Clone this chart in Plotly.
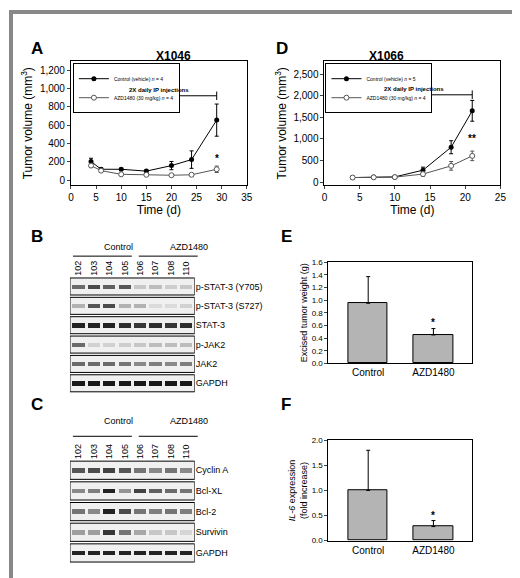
import plotly.graph_objects as go

W, H = 520, 578

# ---- panel A (X1046) ----
a_days = [4, 6, 10, 15, 20, 24, 29]
a_ctrl = [205, 120, 120, 100, 160, 225, 655]
a_ctrl_err = [35, 15, 12, 12, 45, 95, 175]
a_azd = [160, 105, 65, 60, 55, 60, 120]
a_azd_err = [20, 10, 8, 8, 8, 15, 35]

# ---- panel D (X1066) ----
d_days = [4, 7, 10, 14, 18, 21]
d_ctrl = [110, 120, 125, 280, 810, 1650]
d_ctrl_err = [15, 15, 15, 70, 150, 240]
d_azd = [110, 115, 120, 190, 380, 610]
d_azd_err = [15, 15, 15, 50, 100, 110]

# ---- panels E / F ----
groups = ["Control", "AZD1480"]
e_weight = [0.95, 0.45]
e_err = [0.42, 0.10]
f_il6 = [1.0, 0.28]
f_err = [0.80, 0.12]

# ---- blots (band darkness 0..1) ----
lanes = ["102", "103", "104", "105", "106", "107", "108", "110"]
b_rows = ["p-STAT-3 (Y705)", "p-STAT-3 (S727)", "STAT-3", "p-JAK2", "JAK2", "GAPDH"]
b_bands = [
    [0.6, 0.75, 0.65, 0.7, 0.15, 0.2, 0.12, 0.15],
    [0.25, 0.7, 0.75, 0.25, 0.25, 0.05, 0.05, 0.1],
    [0.95, 0.95, 0.95, 0.9, 0.85, 0.9, 0.85, 0.9],
    [0.6, 0.1, 0.1, 0.12, 0.15, 0.2, 0.2, 0.2],
    [0.6, 0.6, 0.6, 0.55, 0.45, 0.5, 0.45, 0.5],
    [1, 1, 1, 1, 1, 1, 1, 1],
]
c_rows = ["Cyclin A", "Bcl-XL", "Bcl-2", "Survivin", "GAPDH"]
c_bands = [
    [0.7, 0.75, 0.8, 0.7, 0.55, 0.45, 0.55, 0.45],
    [0.45, 0.5, 0.95, 0.4, 0.8, 0.65, 0.6, 0.55],
    [0.55, 0.45, 0.95, 0.75, 0.55, 0.5, 0.55, 0.5],
    [0.35, 0.35, 0.85, 0.55, 0.3, 0.15, 0.15, 0.08],
    [0.95, 0.95, 0.95, 0.95, 0.95, 0.95, 0.95, 0.95],
]


def dx(a, b):
    return [a / W, b / W]


def dy(top, bottom):
    return [1 - bottom / H, 1 - top / H]


FONT = "Liberation Sans, Arial, sans-serif"
fig = go.Figure()

leg_names = {
    "legend": ["Control (vehicle) <i>n</i> = 4", "AZD1480 (30 mg/kg) <i>n</i> = 4"],
    "legend2": ["Control (vehicle) <i>n</i> = 5", "AZD1480 (30 mg/kg) <i>n</i> = 4"],
}

# line charts
def line_pair(x, c, ce, z, ze, xa, ya, leg):
    fig.add_trace(go.Scatter(x=x, y=c, error_y=dict(array=ce, color="black", thickness=1, width=2),
                             mode="lines+markers", line=dict(color="black", width=1),
                             marker=dict(color="black", size=5), xaxis=xa, yaxis=ya, legend=leg,
                             name=leg_names[leg][0]))
    fig.add_trace(go.Scatter(x=x, y=z, error_y=dict(array=ze, color="#555", thickness=1, width=2),
                             mode="lines+markers", line=dict(color="#555", width=1),
                             marker=dict(color="white", size=5, line=dict(color="#555", width=1)),
                             xaxis=xa, yaxis=ya, legend=leg, name=leg_names[leg][1]))

line_pair(a_days, a_ctrl, a_ctrl_err, a_azd, a_azd_err, "x", "y", "legend")
line_pair(d_days, d_ctrl, d_ctrl_err, d_azd, d_azd_err, "x2", "y2", "legend2")

# blots
def blot(rows, bands, xa, ya):
    for i, row in enumerate(bands):
        cols = ["rgb({0},{0},{0})".format(int(230 - d * 205)) for d in row]
        fig.add_trace(go.Bar(x=list(range(len(lanes))), y=[0.22] * len(lanes), base=[i + 0.39] * len(lanes),
                             width=0.8, marker=dict(color=cols, line=dict(width=0)),
                             xaxis=xa, yaxis=ya, showlegend=False))
        fig.add_shape(type="rect", xref=xa, yref=ya, x0=-0.55, x1=7.55, y0=i + 0.06, y1=i + 0.94,
                      fillcolor="#f0f0f0", line=dict(color="black", width=1), layer="below")

blot(b_rows, b_bands, "x3", "y3")
blot(c_rows, c_bands, "x4", "y4")

# bar charts
for vals, errs, xa, ya in [(e_weight, e_err, "x5", "y5"), (f_il6, f_err, "x6", "y6")]:
    fig.add_trace(go.Bar(x=[0, 1], y=vals, width=0.6, marker=dict(color="#b4b4b4", line=dict(color="black", width=1)),
                         error_y=dict(array=errs, arrayminus=[0, 0], color="black", thickness=1, width=2),
                         xaxis=xa, yaxis=ya, showlegend=False))

ax = dict(showline=True, linecolor="black", mirror=True, ticks="outside", ticklen=3,
          showgrid=False, zeroline=False, tickfont=dict(size=10, color="black"))
bx = dict(showline=False, showgrid=False, zeroline=False, ticks="", fixedrange=True)
leg = dict(xanchor="left", yanchor="top", bgcolor="white", bordercolor="black", borderwidth=1,
           font=dict(size=5, color="black"), tracegroupgap=0, itemwidth=30)

fig.update_layout(
    width=W, height=H, margin=dict(l=0, r=0, t=0, b=0),
    paper_bgcolor="white", plot_bgcolor="white", font=dict(family=FONT, color="black"),
    barmode="overlay", bargap=0,
    xaxis=dict(ax, domain=dx(61, 240), range=[0, 35], dtick=5, anchor="y",
               title=dict(text="Time (d)", font=dict(size=12), standoff=2)),
    yaxis=dict(ax, domain=dy(50, 176), range=[-54, 1296], tickvals=[0, 200, 400, 600, 800, 1000, 1200],
               tickformat=",", anchor="x", title=dict(text="Tumor volume (mm<sup>3</sup>)", font=dict(size=12), standoff=4)),
    xaxis2=dict(ax, domain=dx(319, 498), range=[0, 25], dtick=5, anchor="y2",
                title=dict(text="Time (d)", font=dict(size=12), standoff=2)),
    yaxis2=dict(ax, domain=dy(50, 176), range=[-68, 2795], tickvals=[0, 500, 1000, 1500, 2000, 2500],
                tickformat=",", anchor="x2", title=dict(text="Tumor volume (mm<sup>3</sup>)", font=dict(size=12), standoff=4)),
    xaxis3=dict(bx, domain=dx(60, 187), range=[-0.55, 7.55], anchor="y3", side="top",
                tickvals=list(range(8)), ticktext=lanes, tickangle=-90, tickfont=dict(size=9)),
    yaxis3=dict(bx, domain=dy(269, 387), range=[6, 0], anchor="x3", side="right",
                tickvals=[i + 0.5 for i in range(6)], ticktext=b_rows, tickfont=dict(size=9)),
    xaxis4=dict(bx, domain=dx(60, 187), range=[-0.55, 7.55], anchor="y4", side="top",
                tickvals=list(range(8)), ticktext=lanes, tickangle=-90, tickfont=dict(size=9)),
    yaxis4=dict(bx, domain=dy(455, 560), range=[5, 0], anchor="x4", side="right",
                tickvals=[i + 0.5 for i in range(5)], ticktext=c_rows, tickfont=dict(size=9)),
    xaxis5=dict(ax, domain=dx(323, 469), range=[-0.61, 1.59], anchor="y5", ticks="",
                tickvals=[0, 1], ticktext=groups),
    yaxis5=dict(ax, domain=dy(254, 357), range=[0, 1.6], dtick=0.2, tickformat=".1f", anchor="x5",
                tickfont=dict(size=8), title=dict(text="Excised tumor weight (g)", font=dict(size=9), standoff=2)),
    xaxis6=dict(ax, domain=dx(323, 469), range=[-0.61, 1.59], anchor="y6", ticks="",
                tickvals=[0, 1], ticktext=groups),
    yaxis6=dict(ax, domain=dy(435, 537), range=[0, 2], dtick=0.5, tickformat=".1f", anchor="x6",
                tickfont=dict(size=8), title=dict(text="<i>IL-6</i> expression<br>(fold increase)", font=dict(size=9), standoff=2)),
    legend=dict(leg, x=63 / W, y=1 - 52 / H),
    legend2=dict(leg, x=320 / W, y=1 - 52 / H),
)

# brackets for injection periods
for xa, ya, x0, x1, yv, yt in [("x", "y", 6, 29, 920, 985), ("x2", "y2", 4.5, 21, 2020, 2150)]:
    fig.add_shape(type="line", xref=xa, yref=ya, x0=x0, x1=x1, y0=yv, y1=yv, line=dict(color="black", width=1))
    for xe in (x0, x1):
        fig.add_shape(type="line", xref=xa, yref=ya, x0=xe, x1=xe, y0=yv * 0.95, y1=yv * 1.05, line=dict(color="black", width=1))
    fig.add_annotation(x=(x0 + x1) / 2, y=yt, xref=xa, yref=ya, text="<b>2X daily IP injections</b>",
                       showarrow=False, font=dict(size=6, color="black"))

ann = [
    ("A", 18, 25, 17, True), ("D", 276, 25, 17, True), ("B", 18, 228, 17, True), ("C", 18, 410, 17, True),
    ("E", 280, 228, 17, True), ("F", 280, 410, 17, True),
    ("X1046", 146, 36, 12, True), ("X1066", 402, 36, 12, True),
    ("Control", 93, 239, 9, False), ("AZD1480", 160, 239, 9, False),
    ("Control", 93, 423, 9, False), ("AZD1480", 160, 423, 9, False),
]
for t, x, y, s, b in ann:
    fig.add_annotation(x=x / W, y=1 - y / H, xref="paper", yref="paper", text="<b>%s</b>" % t if b else t,
                       showarrow=False, font=dict(size=s, color="black"))

# significance stars
stars = [(29, 235, "x", "y", "*"), (21, 1000, "x2", "y2", "**"), (1, 0.64, "x5", "y5", "*"), (1, 0.5, "x6", "y6", "*")]
for x, y, xa, ya, t in stars:
    fig.add_annotation(x=x, y=y, xref=xa, yref=ya, text="<b>%s</b>" % t, showarrow=False,
                       font=dict(size=10, color="black"))

# group underlines
for yl in (248, 431):
    for a, b in ((63, 123), (130, 190)):
        fig.add_shape(type="line", xref="paper", yref="paper", x0=a / W, x1=b / W, y0=1 - yl / H, y1=1 - yl / H,
                      line=dict(color="black", width=1))

# outer frame
fig.add_shape(type="rect", xref="paper", yref="paper", x0=0, x1=1, y0=0, y1=1,
              line=dict(color="#888", width=4), fillcolor="rgba(0,0,0,0)")

fig.write_html("out.html")
